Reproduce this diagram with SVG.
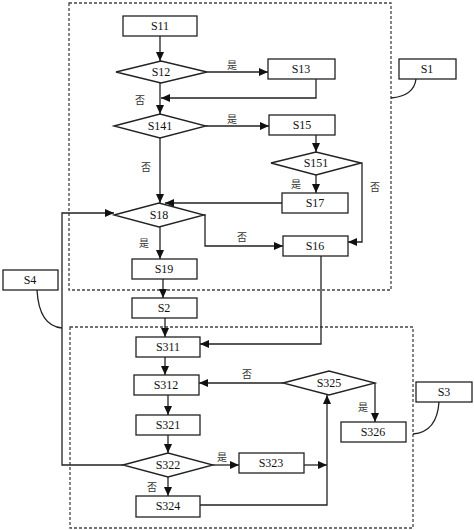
<svg xmlns="http://www.w3.org/2000/svg" width="474" height="530" viewBox="0 0 474 530">
<style>
.box{fill:#fff;stroke:#222;stroke-width:1.3}
.dash{fill:none;stroke:#444;stroke-width:1.3;stroke-dasharray:3 2}
.ln{fill:none;stroke:#222;stroke-width:1.3}
.t{font-family:"Liberation Serif","Noto Sans CJK SC",serif;font-size:12px;fill:#111;text-anchor:middle}
.c{font-family:"Liberation Serif","Noto Sans CJK SC",serif;font-size:10px;fill:#333;text-anchor:middle}
</style>
<defs>
<marker id="ah" markerUnits="userSpaceOnUse" markerWidth="10" markerHeight="8" refX="9" refY="4" orient="auto">
<path d="M0,0 L9,4 L0,8 Z" fill="#111"/>
</marker>
</defs>
<g id="groups">
<rect class="dash" x="69" y="3" width="322" height="287"/>
<rect class="dash" x="70" y="327" width="343" height="201"/>
</g>
<g id="connectors">
<path class="ln" marker-end="url(#ah)" d="M160,36 V61"/>
<path class="ln" marker-end="url(#ah)" d="M207,72 H268"/>
<path class="ln" marker-end="url(#ah)" d="M316,79 V98 H161"/>
<path class="ln" marker-end="url(#ah)" d="M160,83 V114"/>
<path class="ln" marker-end="url(#ah)" d="M206,126 H269"/>
<path class="ln" marker-end="url(#ah)" d="M316,135 V152"/>
<path class="ln" marker-end="url(#ah)" d="M316,175 V193"/>
<path class="ln" marker-end="url(#ah)" d="M361,163 H362 V242 H348"/>
<path class="ln" marker-end="url(#ah)" d="M282,203 H165"/>
<path class="ln" marker-end="url(#ah)" d="M160,138 V203"/>
<path class="ln" marker-end="url(#ah)" d="M204,215 H205 V246 H283"/>
<path class="ln" marker-end="url(#ah)" d="M160,227 V259"/>
<path class="ln" marker-end="url(#ah)" d="M163,279 V298"/>
<path class="ln" marker-end="url(#ah)" d="M165,318 V337"/>
<path class="ln" marker-end="url(#ah)" d="M321,256 V344 H200"/>
<path class="ln" marker-end="url(#ah)" d="M165,357 V375"/>
<path class="ln" marker-end="url(#ah)" d="M168,395 V415"/>
<path class="ln" marker-end="url(#ah)" d="M168,435 V453"/>
<path class="ln" marker-end="url(#ah)" d="M213,465 H239"/>
<path class="ln" marker-end="url(#ah)" d="M168,477 V496"/>
<path class="ln" marker-end="url(#ah)" d="M304,465 H327"/>
<path class="ln" marker-end="url(#ah)" d="M200,505 H327 V395"/>
<path class="ln" marker-end="url(#ah)" d="M283,383 H199"/>
<path class="ln" marker-end="url(#ah)" d="M375,383 V422"/>
<path class="ln" marker-end="url(#ah)" d="M123,465 H62 V213 H114"/>
<path class="ln" d="M37,290 Q39,326 62,328"/>
<path class="ln" d="M416,79 Q414,96 391,98"/>
<path class="ln" d="M439,402 Q437,432 413,434"/>
<text class="c" x="232" y="69">是</text>
<text class="c" x="140" y="104">否</text>
<text class="c" x="232" y="123">是</text>
<text class="c" x="146" y="171">否</text>
<text class="c" x="296" y="188">是</text>
<text class="c" x="375" y="191">否</text>
<text class="c" x="242" y="241">否</text>
<text class="c" x="144" y="247">是</text>
<text class="c" x="247" y="378">否</text>
<text class="c" x="222" y="461">是</text>
<text class="c" x="152" y="491">否</text>
<text class="c" x="363" y="411">是</text>
</g>
<g id="S11"><rect class="box" x="123" y="16" width="74" height="20"/><text class="t" x="160" y="30">S11</text></g>
<g id="S12"><polygon class="box" points="116,72 161,61 207,72 161,83"/><text class="t" x="161" y="76">S12</text></g>
<g id="S13"><rect class="box" x="268" y="59" width="67" height="20"/><text class="t" x="301" y="73">S13</text></g>
<g id="S141"><polygon class="box" points="114,126 160,114 206,126 160,138"/><text class="t" x="160" y="130">S141</text></g>
<g id="S15"><rect class="box" x="269" y="115" width="66" height="20"/><text class="t" x="302" y="129">S15</text></g>
<g id="S151"><polygon class="box" points="271,163 316,152 361,163 316,175"/><text class="t" x="316" y="167">S151</text></g>
<g id="S17"><rect class="box" x="282" y="193" width="66" height="20"/><text class="t" x="315" y="207">S17</text></g>
<g id="S16"><rect class="box" x="283" y="236" width="65" height="20"/><text class="t" x="315" y="250">S16</text></g>
<g id="S18"><polygon class="box" points="114,215 159,203 204,215 159,227"/><text class="t" x="159" y="219">S18</text></g>
<g id="S19"><rect class="box" x="132" y="259" width="65" height="20"/><text class="t" x="164" y="273">S19</text></g>
<g id="S2"><rect class="box" x="132" y="298" width="65" height="20"/><text class="t" x="164" y="312">S2</text></g>
<g id="S311"><rect class="box" x="136" y="337" width="64" height="20"/><text class="t" x="168" y="351">S311</text></g>
<g id="S312"><rect class="box" x="134" y="375" width="65" height="20"/><text class="t" x="166" y="389">S312</text></g>
<g id="S321"><rect class="box" x="136" y="415" width="64" height="20"/><text class="t" x="168" y="429">S321</text></g>
<g id="S322"><polygon class="box" points="123,465 168,453 213,465 168,477"/><text class="t" x="168" y="469">S322</text></g>
<g id="S323"><rect class="box" x="239" y="453" width="65" height="20"/><text class="t" x="271" y="467">S323</text></g>
<g id="S324"><rect class="box" x="136" y="496" width="64" height="21"/><text class="t" x="168" y="510">S324</text></g>
<g id="S325"><polygon class="box" points="283,383 329,371 375,383 329,395"/><text class="t" x="329" y="387">S325</text></g>
<g id="S326"><rect class="box" x="341" y="422" width="65" height="20"/><text class="t" x="373" y="436">S326</text></g>
<g id="S1"><rect class="box" x="399" y="59" width="57" height="20"/><text class="t" x="427" y="73">S1</text></g>
<g id="S3"><rect class="box" x="416" y="382" width="56" height="20"/><text class="t" x="444" y="396">S3</text></g>
<g id="S4"><rect class="box" x="3" y="270" width="55" height="20"/><text class="t" x="30" y="284">S4</text></g>
</svg>
